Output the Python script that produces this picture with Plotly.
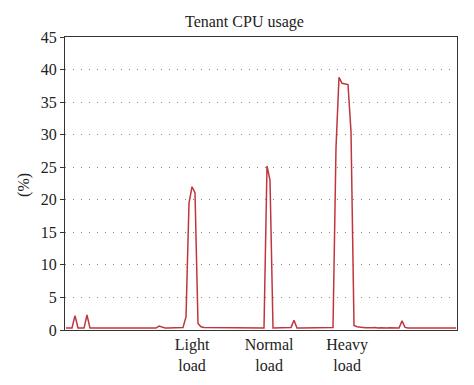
import plotly.graph_objects as go

# sample index (time) and tenant CPU usage (%)
base = [0.3, 0.3, 0.3, 2.2, 0.3, 0.3, 0.3, 2.3, 0.3, 0.3,
        0.3, 0.3, 0.35, 0.3, 0.3, 0.35, 0.4, 0.3, 0.3, 0.35,
        0.3, 0.3, 0.3, 0.35, 0.3, 0.3, 0.3, 0.3, 0.3, 0.3,
        0.3, 0.6, 0.4, 0.3, 0.3, 0.3, 0.3, 0.3, 0.3, 0.4,
        2.0, 19.5, 22.0, 21.1, 1.0, 0.5, 0.4, 0.4, 0.35, 0.4,
        0.4, 0.35, 0.3, 0.3, 0.35, 0.3, 0.3, 0.3, 0.35, 0.35,
        0.3, 0.3, 0.3, 0.3, 0.3, 0.3, 0.3, 25.2, 23.0, 0.3,
        0.3, 0.35, 0.3, 0.3, 0.3, 0.4, 1.5, 0.3, 0.3, 0.3,
        0.3, 0.3, 0.35, 0.3, 0.3, 0.35, 0.3, 0.3, 0.3, 0.4,
        28.0, 38.8, 37.9, 37.8, 37.7, 30.5, 0.7, 0.5, 0.4, 0.4,
        0.35, 0.3, 0.35, 0.4, 0.3, 0.35, 0.3, 0.3, 0.35, 0.3,
        0.3, 0.3, 1.4, 0.4, 0.3, 0.35, 0.3, 0.3, 0.35, 0.3,
        0.3, 0.3, 0.35, 0.3, 0.3, 0.3, 0.4, 0.35, 0.3, 0.3,
        0.3]
samples = list(range(len(base)))

load_tick_pos = [42.0, 67.7, 93.7]
load_tick_text = ["Light<br>load", "Normal<br>load", "Heavy<br>load"]
y_ticks = [0, 5, 10, 15, 20, 25, 30, 35, 40, 45]

FONT = "Liberation Serif, Times New Roman, serif"

fig = go.Figure()
fig.add_trace(go.Scatter(
    x=samples, y=base, mode="lines",
    line=dict(color="#c0363f", width=1.5),
    showlegend=False, hoverinfo="skip"))

fig.update_layout(
    width=466, height=377,
    margin=dict(l=57, r=17, t=29, b=55),
    paper_bgcolor="white", plot_bgcolor="white",
    font=dict(family=FONT, size=16, color="#222"),
    xaxis=dict(
        range=[-0.33, 130.33],
        tickmode="array", tickvals=load_tick_pos, ticktext=load_tick_text,
        showgrid=False, zeroline=False,
        showline=True, linecolor="#333", linewidth=1.2, mirror=True,
        ticks="", tickfont=dict(family=FONT, size=16, color="#222"),
    ),
    yaxis=dict(
        range=[0, 45],
        tickmode="array", tickvals=y_ticks,
        showgrid=True, gridcolor="#888", gridwidth=1.4, griddash="1px,7px",
        zeroline=False,
        showline=True, linecolor="#333", linewidth=1.2, mirror=True,
        ticks="outside", ticklen=4, tickcolor="#333",
        tickfont=dict(family=FONT, size=16, color="#222"),
    ),
    annotations=[
        dict(text="Tenant CPU usage", x=0.457, y=1, xref="paper", yref="paper",
             xanchor="center", yanchor="bottom", yshift=4, showarrow=False,
             font=dict(family=FONT, size=16, color="#222")),
        dict(text="(%)", x=-0.103, y=0.494, xref="paper", yref="paper",
             xanchor="center", yanchor="middle", textangle=-90, showarrow=False,
             font=dict(family=FONT, size=16, color="#222")),
    ],
)

fig.write_html("out.html")
